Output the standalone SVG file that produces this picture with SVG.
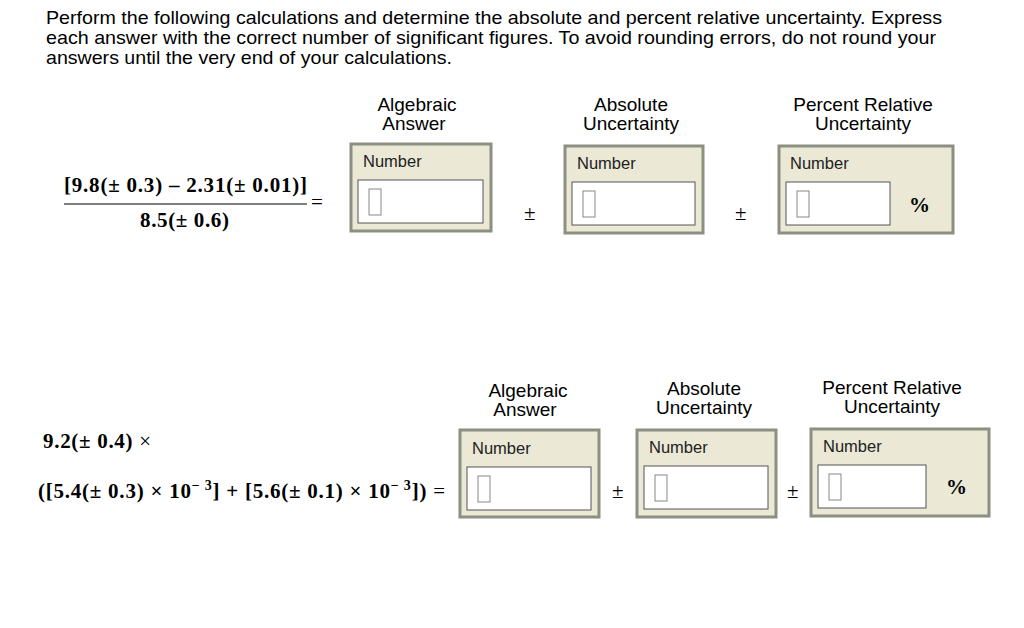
<svg xmlns="http://www.w3.org/2000/svg" width="1024" height="628" viewBox="0 0 1024 628">
<style>
.t{font-family:"Liberation Sans",Arial,sans-serif;font-size:18.5px;fill:#000}
.h{font-family:"Liberation Sans",Arial,sans-serif;font-size:19px;fill:#000;text-anchor:middle}
.l{font-family:"Liberation Sans",Arial,sans-serif;font-size:16.5px;fill:#222}
.m{font-family:"Liberation Serif","Times New Roman",serif;font-size:21px;font-weight:bold;fill:#000}
.mr{font-family:"Liberation Serif","Times New Roman",serif;font-size:21px;fill:#000}
.frame{fill:#ebe8d6;stroke:#8c9080;stroke-width:3}
.inp{fill:#fff;stroke:#555;stroke-width:1}
.cur{fill:#fff;stroke:#888;stroke-width:1}
</style>
<rect width="1024" height="628" fill="#fff"/>
<text class="t" x="46" y="24" textLength="896" lengthAdjust="spacingAndGlyphs">Perform the following calculations and determine the absolute and percent relative uncertainty. Express</text>
<text class="t" x="46" y="44" textLength="890" lengthAdjust="spacingAndGlyphs">each answer with the correct number of significant figures. To avoid rounding errors, do not round your</text>
<text class="t" x="46" y="64" textLength="406" lengthAdjust="spacingAndGlyphs">answers until the very end of your calculations.</text>

<g id="headers1">
<text class="h" x="417" y="111">Algebraic</text><text class="h" x="414" y="130">Answer</text>
<text class="h" x="631" y="111">Absolute</text><text class="h" x="631" y="130">Uncertainty</text>
<text class="h" x="863" y="111">Percent Relative</text><text class="h" x="863" y="130">Uncertainty</text>
</g>
<g id="expr1">
<text class="m" x="64" y="192" textLength="243" lengthAdjust="spacing">[9.8(± 0.3) – 2.31(± 0.01)]</text>
<line x1="64" y1="204" x2="307" y2="204" stroke="#000" stroke-width="1.2"/>
<text class="mr" x="311" y="209">=</text>
<text class="m" x="140" y="227" textLength="89" lengthAdjust="spacing">8.5(± 0.6)</text>
</g>
<g id="box1a"><rect class="frame" x="351" y="144" width="140" height="87"/><text class="l" x="363" y="167">Number</text><rect class="inp" x="358" y="180" width="125" height="43"/><rect class="cur" x="369" y="189" width="12" height="26"/></g>
<text class="mr" x="524" y="220">±</text>
<g id="box1b"><rect class="frame" x="565" y="146" width="138" height="87"/><text class="l" x="577" y="169">Number</text><rect class="inp" x="572" y="182" width="123" height="43"/><rect class="cur" x="583" y="191" width="12" height="26"/></g>
<text class="mr" x="735" y="220">±</text>
<g id="box1c"><rect class="frame" x="779" y="146" width="174" height="87"/><text class="l" x="790" y="169">Number</text><rect class="inp" x="786" y="182" width="104" height="43"/><rect class="cur" x="797" y="191" width="12" height="26"/><text class="m" x="909" y="212">%</text></g>

<g id="headers2">
<text class="h" x="528" y="397">Algebraic</text><text class="h" x="525" y="416">Answer</text>
<text class="h" x="704" y="395">Absolute</text><text class="h" x="704" y="414">Uncertainty</text>
<text class="h" x="892" y="394">Percent Relative</text><text class="h" x="892" y="413">Uncertainty</text>
</g>
<g id="expr2">
<text class="m" x="43" y="448" textLength="108" lengthAdjust="spacing">9.2(± 0.4) <tspan font-weight="normal">×</tspan></text>
<text class="m" x="38" y="498" textLength="407" lengthAdjust="spacing">([5.4(± 0.3) × 10<tspan dy="-8" font-size="14">− 3</tspan><tspan dy="8">] + [5.6(± 0.1) × 10</tspan><tspan dy="-8" font-size="14">− 3</tspan><tspan dy="8">]) <tspan font-weight="normal">=</tspan></tspan></text>
</g>
<g id="box2a"><rect class="frame" x="460" y="430" width="139" height="87"/><text class="l" x="472" y="454">Number</text><rect class="inp" x="467" y="467" width="124" height="43"/><rect class="cur" x="478" y="476" width="12" height="26"/></g>
<text class="mr" x="612" y="498">±</text>
<g id="box2b"><rect class="frame" x="637" y="430" width="139" height="87"/><text class="l" x="649" y="453">Number</text><rect class="inp" x="644" y="466" width="124" height="43"/><rect class="cur" x="655" y="475" width="12" height="26"/></g>
<text class="mr" x="787" y="498">±</text>
<g id="box2c"><rect class="frame" x="811" y="429" width="178" height="87"/><text class="l" x="823" y="452">Number</text><rect class="inp" x="818" y="465" width="108" height="43"/><rect class="cur" x="829" y="474" width="12" height="26"/><text class="m" x="946" y="494">%</text></g>
</svg>
